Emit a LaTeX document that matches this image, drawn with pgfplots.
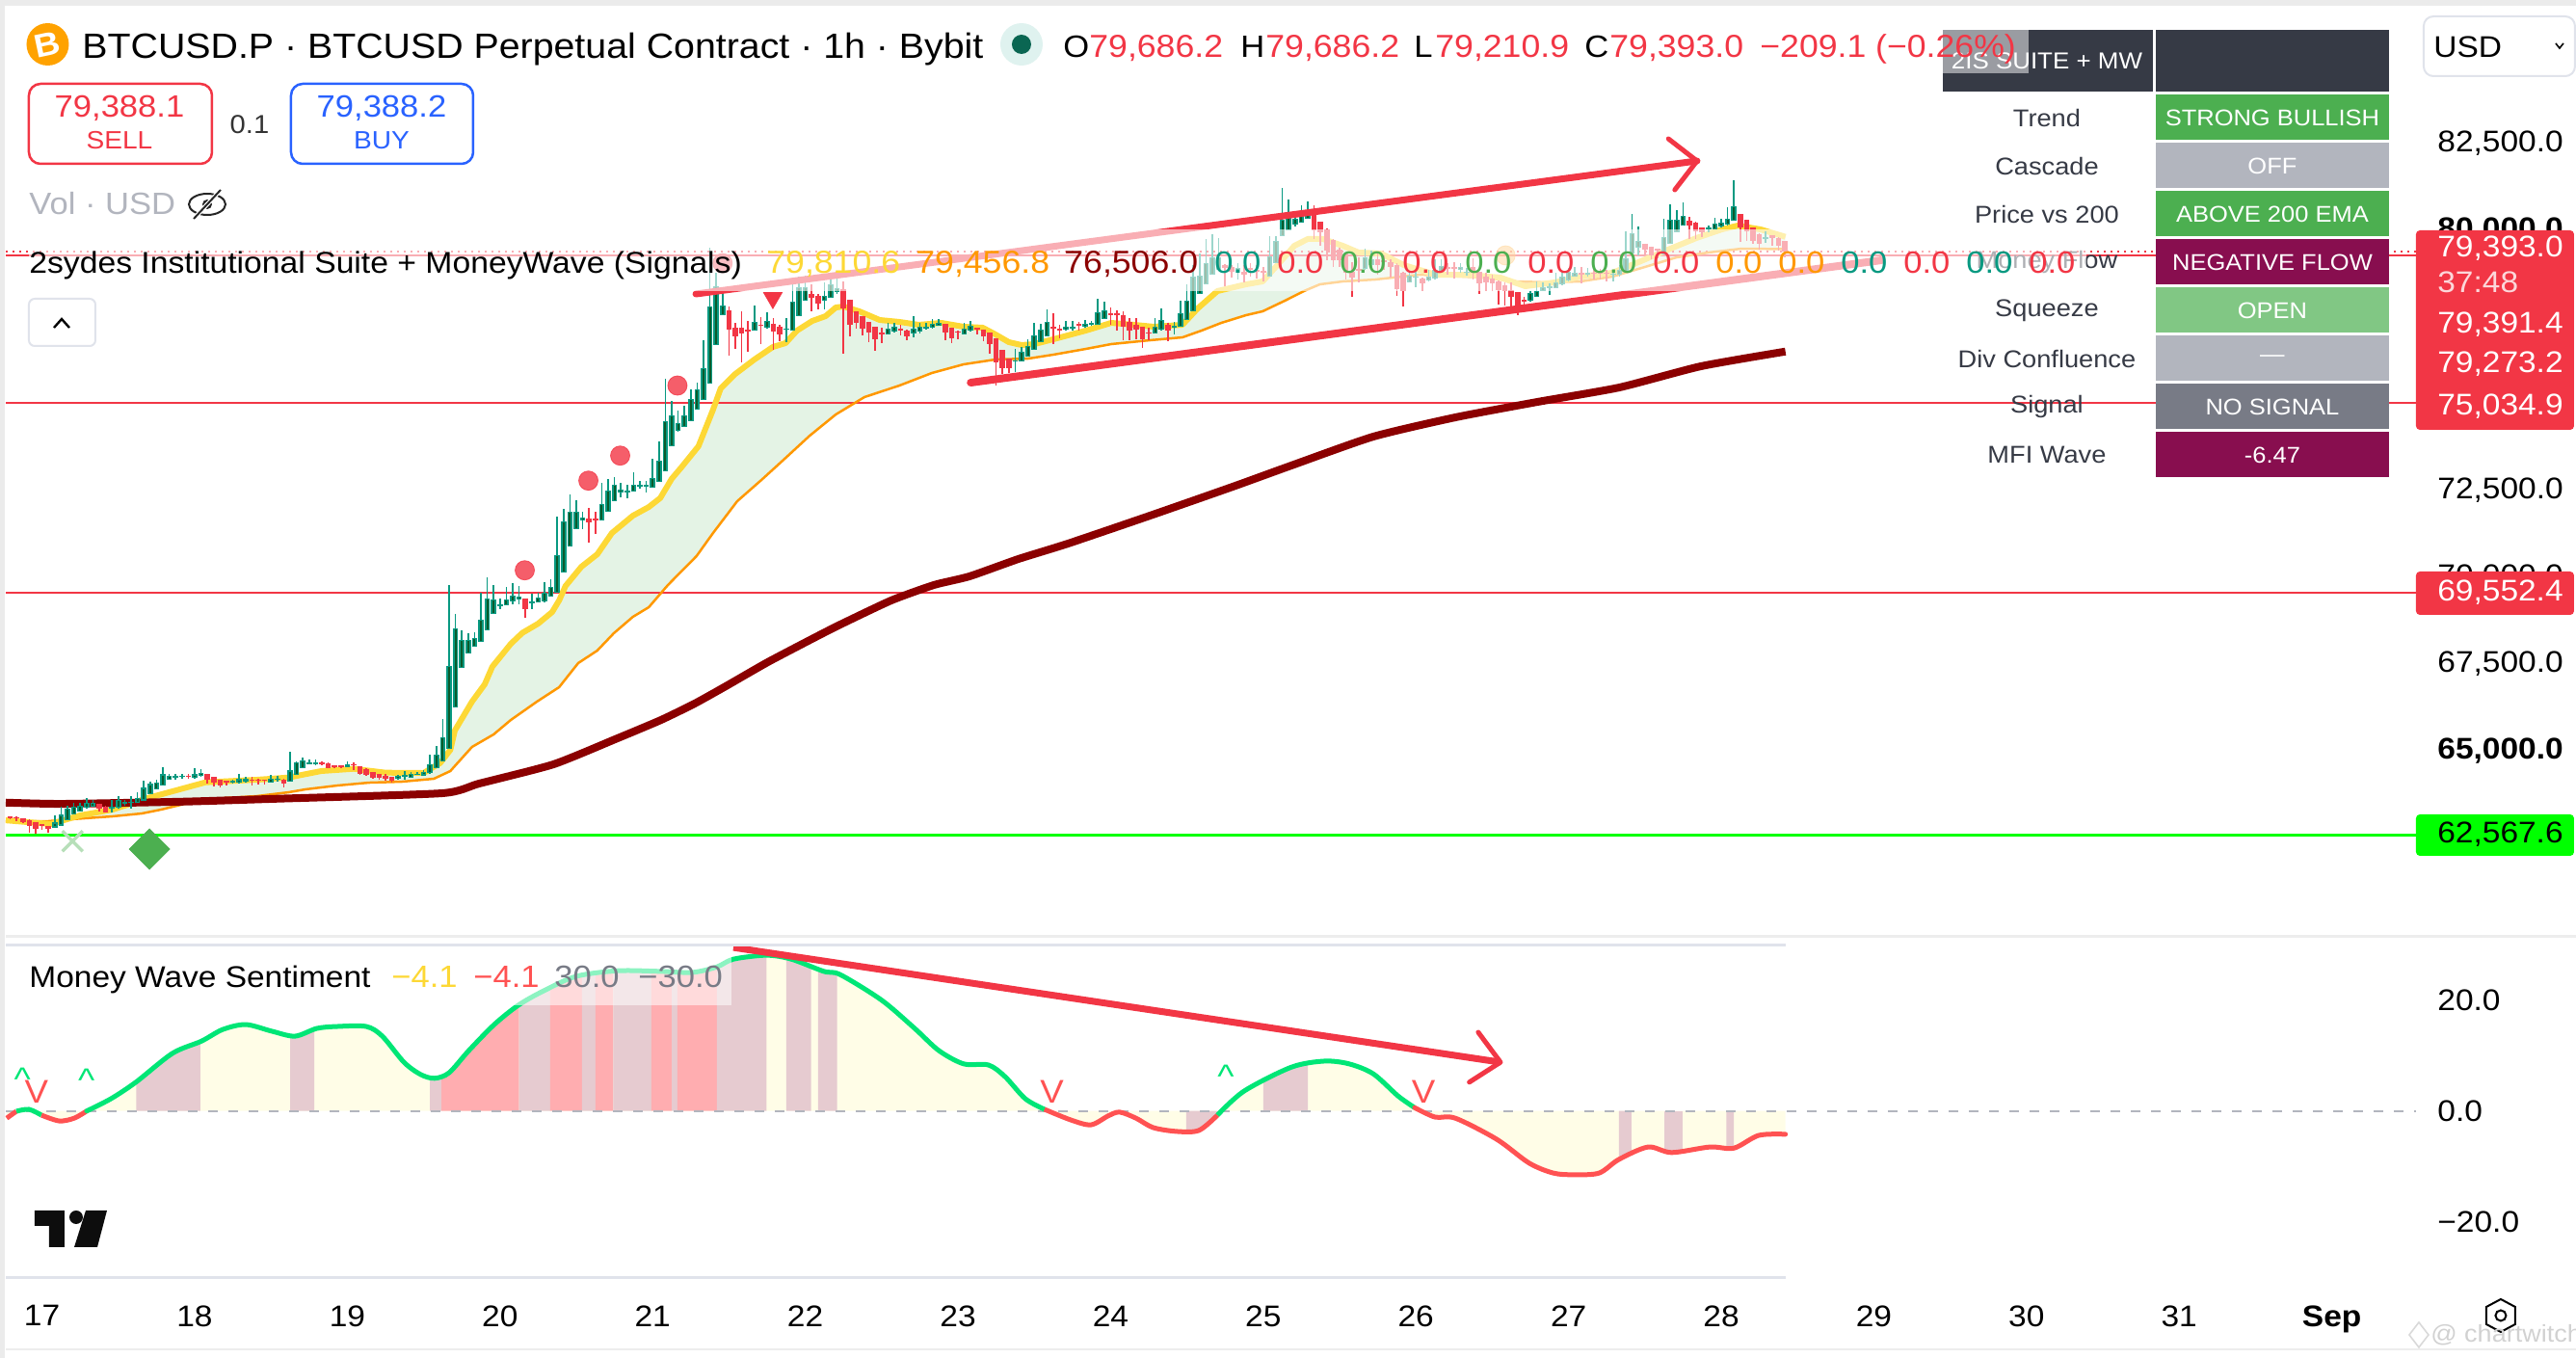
\documentclass[border=0pt]{standalone}
\usepackage{fontspec}
\setmainfont[FakeStretch=1.08]{Liberation Sans}
\usepackage{pgfplots}
\usepackage{pgfplotstable}
\pgfplotsset{compat=1.18}
\usepgfplotslibrary{fillbetween}
\definecolor{tvred}{HTML}{F23645}
\definecolor{tvteal}{HTML}{089981}
\definecolor{tvdark}{HTML}{0B5A2B}
\definecolor{tvblue}{HTML}{2962FF}
\definecolor{tvgreen}{HTML}{4CAF50}
\definecolor{tvlgreen}{HTML}{81C784}
\definecolor{tvorange}{HTML}{FF9800}
\definecolor{tvyellow}{HTML}{FDD835}
\definecolor{tvmaroon}{HTML}{8B0000}
\definecolor{tvpurple}{HTML}{880E4F}
\definecolor{tvhead}{HTML}{363A45}
\definecolor{tvgrey}{HTML}{787B86}
\definecolor{tvlgrey}{HTML}{B2B5BE}
\definecolor{tvline}{HTML}{E0E3EB}
\definecolor{wavegreen}{HTML}{00E676}
\definecolor{wavered}{HTML}{FF5252}
\definecolor{pk}{HTML}{E6CBD0}
\definecolor{rd}{HTML}{FFADB0}
\definecolor{ye}{HTML}{FFFDE7}
\definecolor{statusdot}{HTML}{0A6652}
\newcommand\fs[1]{\fontsize{#1bp}{#1bp}\selectfont}

% candles: h open high low close
\pgfplotstableread{
h o hi lo c
2 62790 63140 62790 62940
3 62850 63390 62850 63160
4 63000 63420 63000 63340
5 63160 63500 63160 63390
6 63260 63500 63260 63420
7 63360 63640 63330 63510
8 63390 63590 63390 63510
11 63330 63590 63220 63390
12 63370 63700 63330 63590
13 63480 63590 63420 63530
14 63500 63700 63350 63530
15 63500 63810 63500 63640
16 63570 64140 63570 63940
17 63760 64120 63760 64050
18 63880 64180 63880 64100
19 64000 64530 64000 64330
20 64160 64340 64160 64280
21 64230 64340 64180 64290
22 64250 64340 64200 64290
24 64220 64490 64210 64330
25 64280 64480 64250 64360
30 64090 64180 64070 64140
31 64080 64350 64070 64190
32 64120 64250 64080 64190
36 64090 64310 64090 64210
37 64160 64270 64120 64210
39 64120 64980 64120 64440
40 64300 64700 64300 64680
41 64490 64810 64490 64720
42 64610 64740 64610 64670
43 64620 64740 64580 64680
48 64540 64700 64540 64610
56 64210 64310 64170 64290
57 64250 64410 64180 64300
58 64230 64380 64220 64340
59 64310 64380 64300 64340
60 64290 64460 64280 64400
61 64360 64890 64340 64610
62 64500 65140 64500 64890
63 64700 65920 64700 65390
64 65060 69780 65060 67450
65 66250 68950 66250 68530
66 67390 68470 67390 68200
67 67810 68390 67810 68200
68 68000 68420 68000 68250
69 68140 69560 68140 68780
70 68470 70000 68470 69390
71 68950 69780 68950 69360
72 69170 69390 69090 69220
73 69200 69720 69200 69360
74 69310 69830 69220 69470
75 69360 69750 69220 69450
77 69250 69530 69090 69310
78 69280 69560 69280 69420
79 69310 69860 69280 69560
80 69450 69950 69450 69720
81 69560 71750 69560 70640
82 70140 71970 70140 71610
83 70890 72390 70890 71890
84 71390 72220 71390 71890
85 71640 71890 71390 71720
88 71640 72720 71640 72110
89 71890 72830 71890 72500
90 72190 72890 72190 72670
91 72450 72720 72310 72530
92 72450 72670 72280 72500
93 72470 73030 72470 72670
94 72610 72780 72560 72670
95 72610 72780 72450 72670
96 72580 73420 72580 72860
97 72750 73920 72750 73360
98 73060 75720 73060 74500
99 73780 75080 73780 74670
100 74220 74800 74190 74440
101 74330 74940 74330 74670
102 74500 75420 74500 75140
103 74830 75610 74830 75420
104 75110 76830 75110 76030
105 75580 79500 75580 77800
106 76690 78780 76690 78390
107 77550 78190 77550 77830
112 77110 77830 77110 77360
114 77190 77640 77170 77390
117 77140 77470 76780 77170
118 77110 78610 77110 77940
119 77530 78660 77530 78360
120 77970 78690 77970 78360
123 77970 78500 77720 78110
124 78050 78780 78050 78440
125 78220 78780 78160 78330
133 77000 77330 77000 77170
134 77080 77330 77050 77220
137 77030 77530 76910 77170
138 77080 77330 77030 77220
139 77170 77330 77140 77220
140 77190 77440 77170 77300
141 77250 77440 77250 77330
145 77000 77330 77000 77170
146 77110 77390 77080 77250
153 76220 76580 75920 76250
154 76220 76640 76220 76500
155 76360 76860 76360 76660
156 76550 77330 76550 76970
157 76780 77300 76780 77140
158 76940 77720 76940 77360
161 77140 77390 77110 77220
162 77170 77390 77110 77220
164 77220 77420 77190 77300
165 77280 77390 77250 77330
166 77280 78030 77280 77640
167 77440 77940 77440 77690
175 77030 77470 77030 77220
176 77140 77750 77110 77410
178 77190 77360 77000 77250
179 77220 77970 77220 77610
180 77410 78440 77410 77970
181 77660 79000 77660 78660
182 78160 79330 78160 78690
183 78440 79750 78440 79050
184 78720 79890 78720 79220
185 78860 79770 78860 79220
188 78780 79050 78580 78910
193 78660 79830 78660 79250
194 79050 79830 79050 79690
195 79830 81220 79830 80300
196 80000 80890 80000 80500
197 80160 80550 80110 80330
198 80220 80720 80220 80440
199 80330 80830 80330 80580
208 78890 79470 78860 79220
209 79000 79410 78940 79160
215 78500 78800 78500 78690
216 78640 78800 78360 78660
218 78550 78860 78530 78660
219 78610 79160 78580 78860
220 78800 79160 78780 78970
223 78860 79050 78780 78940
224 78780 78910 78690 78800
234 77970 78250 77940 78190
235 78080 78530 78080 78250
236 78250 78500 78250 78360
237 78330 78470 78140 78390
238 78330 78780 78330 78500
239 78440 78800 78410 78660
240 78550 78910 78530 78800
241 78660 78940 78660 78780
243 78720 78910 78660 78780
247 78720 78860 78530 78750
248 78720 79000 78660 78860
249 78800 79970 78800 79190
250 79330 80470 79330 79910
251 79500 80110 79270 79690
255 79300 80330 79300 79800
256 79610 80750 79610 80300
257 79940 80580 79940 80300
258 80140 80800 80140 80410
262 80020 80140 79940 80080
263 80020 80360 80020 80190
264 80110 80330 80080 80220
265 80160 80660 80140 80330
266 80280 81440 80280 80690
271 79750 79970 79640 79800
}\upcandles
\pgfplotstableread{
h o hi lo c
-5 63115 63120 63030 63060
-4 63090 63120 62980 63050
-3 63050 63070 62920 62940
-2 63000 63020 62640 62850
-1 62940 62960 62620 62760
0 62890 62900 62730 62850
1 62830 62840 62640 62760
9 63480 63480 63260 63350
10 63400 63420 63220 63220
23 64290 64340 64190 64250
26 64330 64340 64070 64170
27 64240 64250 63980 64080
28 64160 64170 63940 64000
29 64140 64140 64010 64100
33 64170 64260 64000 64130
34 64170 64200 64030 64130
35 64170 64170 64040 64130
38 64170 64190 63960 64060
44 64660 64700 64580 64620
45 64630 64660 64490 64490
46 64580 64580 64510 64530
47 64580 64580 64490 64530
49 64620 64670 64440 64580
50 64550 64560 64320 64340
51 64470 64490 64280 64300
52 64380 64400 64210 64230
53 64330 64340 64170 64220
54 64270 64330 64150 64200
55 64240 64260 64090 64150
76 69390 69390 68840 69090
86 71700 72000 71000 71580
87 71700 71890 71250 71640
108 77690 77800 76390 77140
109 77190 77330 76580 76940
110 77190 77660 76190 77030
111 77140 77390 76500 77080
113 77280 77500 76720 77250
115 77300 77470 76550 77080
116 77220 77280 76800 77000
121 78160 78440 77660 78050
122 78110 78160 77720 77890
126 78300 78530 76440 77750
127 78000 78000 76940 77280
128 77660 77660 77170 77330
129 77530 77530 76970 77170
130 77360 77360 76780 77050
131 77220 77220 76530 76860
132 77050 77190 76750 77000
135 77170 77280 76970 77110
136 77110 77140 76830 76940
142 77300 77300 76830 77050
143 77190 77190 76750 76890
144 77080 77110 76860 77050
147 77190 77190 77000 77140
148 77140 77140 76800 76940
149 77050 77050 76440 76720
150 76890 76890 75530 76190
151 76550 76550 75860 76030
152 76300 76300 75890 76030
159 77220 77610 76720 77170
160 77170 77280 76890 77110
163 77300 77360 77110 77250
168 77610 77780 77280 77550
169 77610 77690 77110 77550
170 77550 77660 76830 77220
171 77360 77470 76830 77110
172 77280 77470 76860 77140
173 77220 77220 76610 76860
174 77050 77190 76830 77030
177 77280 77330 76800 77110
186 79000 79030 78390 78910
187 78940 79000 78640 78800
189 78800 79000 78500 78720
190 78910 79050 78660 78860
191 78860 79000 78610 78800
192 78830 78940 78530 78780
200 80580 80720 79750 80000
201 80250 80250 79550 79940
202 80020 80050 79140 79410
203 79720 79750 78940 79140
204 79440 79500 78940 79140
205 79330 79360 78580 78780
206 78800 79080 78080 78640
207 78890 79220 78500 78830
210 79160 79330 78720 79000
211 79140 79270 78860 79080
212 79080 79160 78640 78940
213 79000 79050 78110 78300
214 78780 78800 77800 78250
217 78610 78640 78250 78470
221 78940 79050 78720 78890
222 78940 79080 78610 78890
225 78940 79190 78580 78780
226 78800 78800 78160 78470
227 78660 78780 78250 78500
228 78610 78720 78250 78470
229 78530 78550 77860 78280
230 78410 78500 77830 78250
231 78280 78500 77800 78080
232 78220 78220 77550 77800
233 78000 78080 77830 77940
242 78780 78940 78470 78720
244 78780 78890 78580 78750
245 78780 78890 78580 78750
246 78780 78860 78530 78750
252 79610 79610 79270 79440
253 79530 79530 79160 79270
254 79470 79470 79190 79410
259 80280 80390 79750 80140
260 80220 80250 79750 79970
261 80080 80080 79800 79940
267 80470 80470 79660 80080
268 80300 80300 79690 79970
269 80080 80080 79610 79690
270 79890 79910 79440 79610
272 79860 79860 79550 79780
273 79780 79800 79410 79550
274 79686.2 79686.2 79210.9 79393.0
}\downcandles
\pgfplotstableread{
h p
-5.7 63000
1.4 62893
6 63143
11.1 63309
16.6 63642
21.1 63865
25.7 64095
33.8 64170
38.8 64235
43.9 64420
49 64484
54 64373
60 64364
62.6 64650
64.2 65030
64.9 65586
67.6 66419
69.6 66919
70.8 67427
73.7 68084
75.5 68398
78 68667
80.2 69000
81.3 69334
82.3 69750
84.8 70306
87.3 70666
89.6 71277
92.9 71777
95.4 72027
97.2 72285
99 72840
100.5 73165
103.2 73776
105.5 74831
106.7 75443
109 75860
112 76276
114.9 76637
116.9 76748
118.7 77109
121.1 77387
123.2 77525
124.8 77775
126 77803
128.5 77664
131.7 77414
134.8 77359
137.8 77276
141.4 77331
144.9 77220
147.9 77193
149.9 76998
152 76776
154 76693
156 76720
159 76859
164.1 77109
168.1 77331
171.7 77276
174.8 77220
179.3 77276
181.7 77748
184.8 78248
189.3 78441
191.9 78525
194.5 79052
196.9 79553
199 79747
201.4 79747
204.5 79553
207 79358
210.5 79330
214.1 78997
219.1 78719
224.2 78719
229.3 78636
233.2 78386
237.8 78497
241.9 78664
246.9 78775
251 79080
256 79469
260.1 79775
264.1 80024
266.6 80135
270.2 80024
274.1 79810.6
}\emafast
\pgfplotstableread{
h p
-5.7 62976
1 62976
4.5 63031
11.1 63115
15.7 63198
18.7 63309
23.7 63531
28.7 63642
33.8 63698
38.8 63809
41.4 63892
46.4 64003
51.4 64086
56.6 64114
61.6 64198
64.2 64420
64.6 64503
67.6 65114
71 65475
73.7 65891
77.8 66419
81.3 66836
84.3 67530
87.3 67891
89.9 68391
92.9 68863
95.4 69140
98.4 69779
102.9 70612
105.5 71277
109.3 72194
113.1 72805
116.1 73305
120.7 74082
124.8 74693
129.3 75193
134.8 75526
139.9 75887
144.9 76137
149.9 76276
155.1 76304
159 76415
164.1 76581
168.1 76720
174.2 76831
179.3 76914
182.3 77109
185.4 77331
189.3 77553
191.9 77664
195.4 77970
198.4 78248
200.9 78441
204.5 78525
209.6 78580
216.6 78719
226.7 78636
231.7 78525
236.9 78497
241.9 78525
246.9 78664
252 78941
257 79219
262 79358
267.2 79469
274.1 79456.8
}\emamid
\pgfplotstableread{
h p
-5.7 63511
3.1 63475
22.3 63539
36.9 63622
62.9 63781
68.7 64058
80.4 64613
90.1 65335
97.3 65890
102.6 66363
107.5 66863
114.1 67557
121.9 68306
125.8 68667
133.5 69334
140.2 69778
145.8 70028
153.5 70528
161.3 70973
174.2 71778
187.2 72611
196.4 73221
209.3 74054
222.2 74609
235.1 75054
248 75471
260.8 76081
274.1 76506
}\emaslow
\pgfplotstableread{
h v
-5.55 -1.3
-4.03 -0.05
-2.06 0.3
-0.09 -0.75
2.71 -1.8
5.06 -1.3
7.03 0
10.82 2.2
14.76 5.2
20.5 10.4
25.06 12.6
28.4 14.7
32.03 15.6
36.12 14.4
39.76 13.5
43.2 14.9
46.4 15.25
50.97 15.25
53.5 13.5
56.9 8.8
59.5 6.6
61.7 5.9
64 6.9
67.1 10.9
71.1 15.6
74.9 19.1
78.9 21.7
84 24.3
90.5 25.3
97 25.2
102.2 25
106.1 26
108.7 27.4
113.9 28.1
117.8 27.4
122.9 25.2
125.5 24.6
132 20
137.2 14.9
141 10.9
144.9 8.5
148.8 8.3
151.4 6.2
154.6 2.2
157.6 0.3
161.7 -1.6
164.9 -2.5
167.6 -0.9
169.4 -0.2
172 -1.3
174.7 -3
178.5 -3.7
181.9 -3.5
184.8 -0.75
189 3.6
196.4 7.9
201.6 9
205.5 8.5
209.3 6.7
213.2 2.7
215.8 0.6
219 -1.1
222.2 -1.3
228.7 -5.1
233.8 -9.4
237.6 -11.2
240.8 -11.5
244.8 -11.2
247.9 -8.75
252.5 -6.5
256.2 -7.5
262.2 -6.5
266 -6.7
269.9 -4.4
274.1 -4.2
}\wave

\begin{document}
\begin{tikzpicture}
\path (0,0) rectangle (1336.5bp,-704.5bp);
\fill[black!8] (0,0) rectangle (1336.5bp,-3bp);
\fill[black!8] (0,0) rectangle (2.5bp,-704.5bp);

\begin{axis}[
  at={(3bp,-482.5bp)}, anchor=south west, scale only axis,
  width=1250.5bp, height=479.5bp,
  xmin=-5.697, xmax=373.24, ymin=59838.4, ymax=86466,
  clip=false, scaled y ticks=false, scaled x ticks=false,
  axis line style={draw=none}, tick style={draw=none}, major tick length=0pt,
  xtick=\empty,
  ytick={65000,67500,70000,72500,75000,77500,80000,82500},
  yticklabels={\textbf{65,000.0},{67,500.0},{70,000.0},{72,500.0},{75,000.0},{77,500.0},\textbf{80,000.0},{82,500.0}},
  yticklabel pos=right,
  yticklabel style={anchor=west, inner sep=0pt, xshift=11bp, font=\fs{15.5}, text=black},
]
% horizontal levels
\addplot[tvred, line width=1bp, forget plot] coordinates {(-5.697,69552.4)(373.24,69552.4)};
\addplot[tvred, line width=1bp, forget plot] coordinates {(-5.697,75034.9)(373.24,75034.9)};
\addplot[tvred, line width=1bp, forget plot] coordinates {(-5.697,79273.2)(373.24,79273.2)};
\addplot[tvred, line width=1bp, dash pattern=on 1bp off 2.5bp, forget plot] coordinates {(-5.697,79393)(373.24,79393)};
\addplot[green, line width=1.5bp, forget plot] coordinates {(-5.697,62567.6)(373.24,62567.6)};
% EMA ribbon
\addplot[draw=none, name path=fast, forget plot] table[x=h,y=p] {\emafast};
\addplot[draw=none, name path=mid, forget plot] table[x=h,y=p] {\emamid};
\addplot[tvgreen, fill opacity=0.15, draw=none, forget plot] fill between[of=fast and mid];
\addplot[tvorange, line width=1.25bp, line join=round, forget plot] table[x=h,y=p] {\emamid};
\addplot[tvyellow, line width=3bp, line join=round, forget plot] table[x=h,y=p] {\emafast};
\addplot[tvmaroon, line width=4bp, line join=round, smooth, tension=0.35, forget plot] table[x=h,y=p] {\emaslow};
% candles
\addplot[draw=none, mark=none, forget plot, error bars/.cd, y dir=both, y explicit, error mark=none,
  error bar style={tvteal, line width=0.8bp}]
  table[x=h, y=c, y error plus expr=\thisrow{hi}-\thisrow{c}, y error minus expr=\thisrow{c}-\thisrow{lo}] {\upcandles};
\addplot[draw=none, mark=none, forget plot, error bars/.cd, y dir=minus, y explicit, error mark=none,
  error bar style={tvteal, line width=2.8bp}]
  table[x=h, y=c, y error minus expr=\thisrow{c}-\thisrow{o}] {\upcandles};
\addplot[draw=none, mark=none, forget plot, error bars/.cd, y dir=minus, y explicit, error mark=none,
  error bar style={tvdark, line width=1bp}]
  table[x=h, y expr=\thisrow{c}-35, y error minus expr={max(\thisrow{c}-\thisrow{o}-70,0)}] {\upcandles};
\addplot[draw=none, mark=none, forget plot, error bars/.cd, y dir=both, y explicit, error mark=none,
  error bar style={tvred, line width=0.8bp}]
  table[x=h, y=o, y error plus expr=\thisrow{hi}-\thisrow{o}, y error minus expr=\thisrow{o}-\thisrow{lo}] {\downcandles};
\addplot[draw=none, mark=none, forget plot, error bars/.cd, y dir=minus, y explicit, error mark=none,
  error bar style={tvred, line width=2.8bp}]
  table[x=h, y=o, y error minus expr=\thisrow{o}-\thisrow{c}] {\downcandles};
% signal marks
\addplot[only marks, mark=*, mark size=5bp, mark options={draw=tvred, fill=tvred, opacity=0.8}, forget plot]
  coordinates {(75.9,70203)(85.9,72786)(90.9,73507)(99.9,75526)(107,79052)};
\addplot[only marks, mark=*, mark size=5bp, mark options={draw=tvorange, fill=tvorange, opacity=0.5}, forget plot]
  coordinates {(230.1,79275)};
\addplot[only marks, mark=triangle*, mark size=5.5bp, mark options={draw=tvred, fill=tvred, rotate=180}, forget plot]
  coordinates {(114.9,78050)};
\addplot[only marks, mark=diamond*, mark size=10.5bp, mark options={draw=tvgreen, fill=tvgreen, xscale=1.33}, forget plot]
  coordinates {(16.9,62170)};
\addplot[only marks, mark=x, mark size=7.5bp, mark options={color=tvgreen!40, line width=1.7bp}, forget plot]
  coordinates {(4.8,62400)};
% drawn trend lines
\addplot[tvred, line width=3.5bp, line cap=round, forget plot] coordinates {(102.8,78164)(260.2,81996)};
\addplot[tvred, line width=2.5bp, line cap=round, line join=round, forget plot] coordinates {(255.7,82634)(260.2,81996)(256.7,81163)};
\addplot[tvred, line width=4bp, line cap=round, forget plot] coordinates {(146,75610)(289.2,79136)};
\end{axis}

\begin{axis}[
  at={(3bp,-663bp)}, anchor=south west, scale only axis,
  width=1250.5bp, height=172.5bp,
  xmin=-5.697, xmax=373.24, ymin=-30.14, ymax=29.86,
  clip=false, scaled y ticks=false, scaled x ticks=false,
  axis line style={draw=none}, tick style={draw=none}, major tick length=0pt,
  xtick={0,24,48,72,96,120,144,168,192,216,240,264,288,312,336,360},
  xticklabels={17,18,19,20,21,22,23,24,25,26,27,28,29,30,31,\textbf{Sep}},
  xticklabel style={anchor=north, inner sep=0pt, yshift=-14bp, font=\fs{15.5}, text=black},
  ytick={-20,0,20},
  yticklabels={−20.0,0.0,20.0},
  yticklabel pos=right,
  yticklabel style={anchor=west, inner sep=0pt, xshift=11bp, font=\fs{15.5}, text=black},
]
\addplot[fill=ye, draw=none, smooth, forget plot] table[x=h,y=v] {\wave} \closedcycle;
\addplot[fill=pk, draw=none, forget plot] coordinates {(14.8,0)(14.8,5.2)(20.5,10.4)(24.9,12.5)(24.9,0)} -- cycle;
\addplot[fill=pk, draw=none, forget plot] coordinates {(39,0)(39,13.7)(39.76,13.5)(42.8,14.5)(42.8,0)} -- cycle;
\addplot[fill=pk, draw=none, forget plot] coordinates {(61,0)(61,6)(61.7,5.9)(62.8,6.4)(62.8,0)} -- cycle;
\addplot[fill=rd, draw=none, forget plot] coordinates {(62.8,0)(62.8,6.4)(64,6.9)(67.1,10.9)(71.1,15.6)(75,19.1)(75,0)} -- cycle;
\addplot[fill=pk, draw=none, forget plot] coordinates {(75,0)(75,19.1)(78.9,21.7)(79.9,22.2)(79.9,0)} -- cycle;
\addplot[fill=rd, draw=none, forget plot] coordinates {(79.9,0)(79.9,22.2)(84,24.3)(84.9,24.5)(84.9,0)} -- cycle;
\addplot[fill=pk, draw=none, forget plot] coordinates {(84.9,0)(84.9,24.5)(87,24.9)(87,0)} -- cycle;
\addplot[fill=rd, draw=none, forget plot] coordinates {(87,0)(87,24.9)(89.8,25.2)(89.8,0)} -- cycle;
\addplot[fill=pk, draw=none, forget plot] coordinates {(89.8,0)(89.8,25.2)(90.5,25.3)(95.8,25.2)(95.8,0)} -- cycle;
\addplot[fill=rd, draw=none, forget plot] coordinates {(95.8,0)(95.8,25.2)(99,25.1)(99,0)} -- cycle;
\addplot[fill=pk, draw=none, forget plot] coordinates {(99,0)(99,25.1)(99.9,25.05)(99.9,0)} -- cycle;
\addplot[fill=rd, draw=none, forget plot] coordinates {(99.9,0)(99.9,25.05)(102.2,25)(106.1,26)(106.1,0)} -- cycle;
\addplot[fill=pk, draw=none, forget plot] coordinates {(106.1,0)(106.1,26)(108.7,27.4)(113.9,28.1)(113.9,0)} -- cycle;
\addplot[fill=pk, draw=none, forget plot] coordinates {(117,0)(117,27.6)(117.8,27.4)(120.9,26)(120.9,0)} -- cycle;
\addplot[fill=pk, draw=none, forget plot] coordinates {(122,0)(122,25.5)(122.9,25.2)(125,24.8)(125,0)} -- cycle;
\addplot[fill=pk, draw=none, forget plot] coordinates {(179.9,0)(179.9,-3.7)(181.9,-3.5)(184.8,-0.75)(184.8,0)} -- cycle;
\addplot[fill=pk, draw=none, forget plot] coordinates {(192,0)(192,5.3)(196.4,7.9)(199,8.5)(199,0)} -- cycle;
\addplot[fill=pk, draw=none, forget plot] coordinates {(247.9,0)(247.9,-8.75)(249.9,-7.8)(249.9,0)} -- cycle;
\addplot[fill=pk, draw=none, forget plot] coordinates {(255,0)(255,-7.2)(257.9,-7.2)(257.9,0)} -- cycle;
\addplot[fill=pk, draw=none, forget plot] coordinates {(264.8,0)(264.8,-6.6)(266,-6.7)(266,0)} -- cycle;
\addplot[tvlgrey, line width=1bp, dash pattern=on 5bp off 5.5bp, forget plot] coordinates {(-5.697,0)(373.24,0)};
% wave line by colour
\addplot[wavered, line width=2.5bp, smooth, forget plot] coordinates {(-5.55,-1.3)(-4.03,-0.05)};
\addplot[wavegreen, line width=2.5bp, smooth, forget plot] coordinates {(-4.03,-0.05)(-2.06,0.3)(-0.09,-0.75)};
\addplot[wavered, line width=2.5bp, smooth, forget plot] coordinates {(-0.09,-0.75)(2.71,-1.8)(5.06,-1.3)(7.03,0)};
\addplot[wavegreen, line width=2.5bp, smooth, line cap=round, forget plot] coordinates {
(7.03,0)(10.82,2.2)(14.76,5.2)(20.5,10.4)(25.06,12.6)(28.4,14.7)(32.03,15.6)(36.12,14.4)(39.76,13.5)(43.2,14.9)(46.4,15.25)(50.97,15.25)(53.5,13.5)(56.9,8.8)(59.5,6.6)(61.7,5.9)(64,6.9)(67.1,10.9)(71.1,15.6)(74.9,19.1)(78.9,21.7)(84,24.3)(90.5,25.3)(97,25.2)(102.2,25)(106.1,26)(108.7,27.4)(113.9,28.1)(117.8,27.4)(122.9,25.2)(125.5,24.6)(132,20)(137.2,14.9)(141,10.9)(144.9,8.5)(148.8,8.3)(151.4,6.2)(154.6,2.2)(157.6,0.3)};
\addplot[wavered, line width=2.5bp, smooth, forget plot] coordinates {
(157.6,0.3)(161.7,-1.6)(164.9,-2.5)(167.6,-0.9)(169.4,-0.2)(172,-1.3)(174.7,-3)(178.5,-3.7)(181.9,-3.5)(184.8,-0.75)};
\addplot[wavegreen, line width=2.5bp, smooth, forget plot] coordinates {
(184.8,-0.75)(189,3.6)(196.4,7.9)(201.6,9)(205.5,8.5)(209.3,6.7)(213.2,2.7)(215.8,0.6)};
\addplot[wavered, line width=2.5bp, smooth, line cap=round, forget plot] coordinates {
(215.8,0.6)(219,-1.1)(222.2,-1.3)(228.7,-5.1)(233.8,-9.4)(237.6,-11.2)(240.8,-11.5)(244.8,-11.2)(247.9,-8.75)(252.5,-6.5)(256.2,-7.5)(262.2,-6.5)(266,-6.7)(269.9,-4.4)(274.1,-4.2)};
% signal letters
\addplot[draw=none, forget plot, nodes near coords={V},
  every node near coord/.style={anchor=center, inner sep=0pt, font=\fs{17}, text=wavered}]
  coordinates {(-0.85,3.4)(158.8,3.4)(217.2,3.4)};
\addplot[draw=none, forget plot, nodes near coords={\textasciicircum},
  every node near coord/.style={anchor=center, inner sep=0pt, font=\fs{17}, text=wavegreen}]
  coordinates {(-3.1,5.7)(7,5.5)(186.1,6.2)};
% drawn divergence arrow
\addplot[tvred, line width=3.5bp, forget plot] coordinates {(108.7,29.5)(229.3,8.8)};
\addplot[tvred, line width=2.5bp, line join=round, line cap=round, forget plot] coordinates {(225.8,14.2)(229.3,8.8)(224.4,5.2)};
\end{axis}

\begin{scope}[x=0.5bp,y=-0.5bp]
% separators
\draw[tvline, line width=1.5bp] (6,981) -- (1853,981);
\draw[tvline, line width=1.5bp] (6,1326) -- (1853,1326);
\draw[black!7, line width=1.5bp] (6,972) -- (2673,972);
\draw[black!7, line width=1bp] (6,1400) -- (2673,1400);
% header
\fill[tvorange!90!yellow] (49.5,46) circle (22);
\node[text=white, font=\fs{17}\bfseries, rotate=12] at (49.5,46) {B};
\node[anchor=base west, inner sep=0, font=\fs{18.2}] at (85,60) {BTCUSD.P · BTCUSD Perpetual Contract · 1h · Bybit};
\fill[tvteal!13] (1060,46) circle (22);
\fill[statusdot] (1060,46) circle (10);
\node[anchor=base west, inner sep=0, font=\fs{16}] at (1103,59) {O};
\node[anchor=base west, inner sep=0, font=\fs{16.5}, text=tvred] at (1130,59) {79,686.2};
\node[anchor=base west, inner sep=0, font=\fs{16}] at (1287,59) {H};
\node[anchor=base west, inner sep=0, font=\fs{16.5}, text=tvred] at (1313,59) {79,686.2};
\node[anchor=base west, inner sep=0, font=\fs{16}] at (1467,59) {L};
\node[anchor=base west, inner sep=0, font=\fs{16.5}, text=tvred] at (1489,59) {79,210.9};
\node[anchor=base west, inner sep=0, font=\fs{16}] at (1644,59) {C};
\node[anchor=base west, inner sep=0, font=\fs{16.5}, text=tvred] at (1670,59) {79,393.0};
% table
\fill[tvhead] (2016,31) rectangle (2234.5,95);
\fill[tvhead] (2237,31) rectangle (2479.5,95);
\fill[white, opacity=0.5] (2016,31) rectangle (2105,76);
\node[text=white, font=\fs{12}] at (2124,63.5) {2IS SUITE + MW};
\node[anchor=base west, inner sep=0, font=\fs{16.5}, text=tvred] at (1826,59) {−209.1 (−0.26\%)};
\foreach \yy/\lab/\val/\colr in {
  98/Trend/STRONG BULLISH/tvgreen,
  148/Cascade/OFF/tvlgrey,
  198/Price vs 200/ABOVE 200 EMA/tvgreen,
  248/Money Flow/NEGATIVE FLOW/tvpurple,
  298/Squeeze/OPEN/tvlgreen,
  348/Div Confluence/—/tvlgrey,
  398/Signal/NO SIGNAL/tvgrey,
  448/MFI Wave/-6.47/tvpurple}{
  \fill[\colr] (2237,\yy) rectangle (2479.5,\yy+47);
  \node[text=white, font=\fs{11.8}] at (2358,\yy+24) {\val};
  \node[text=tvhead, font=\fs{12.6}] at (2124,\yy+24) {\lab};
}
% legend band over the chart
\fill[white, opacity=0.6] (30,238) rectangle (2165,302);
\node[anchor=base west, inner sep=0, font=\fs{15.6}] at (30,284) {2sydes Institutional Suite + MoneyWave (Signals)};
\node[anchor=base west, inner sep=0, font=\fs{16.5}, text=tvyellow] at (795,284) {79,810.6};
\node[anchor=base west, inner sep=0, font=\fs{16.5}, text=tvorange] at (950,284) {79,456.8};
\node[anchor=base west, inner sep=0, font=\fs{16.5}, text=tvmaroon] at (1104,284) {76,506.0};
\foreach \k/\colr in {0/tvteal,1/tvred,2/tvgreen,3/tvred,4/tvgreen,5/tvred,6/tvgreen,7/tvred,8/tvorange,9/tvorange,10/tvteal,11/tvred,12/tvteal,13/tvred}{
  \node[anchor=base west, inner sep=0, font=\fs{16}, text=\colr] at (1260+65*\k,284) {0.0};
}
% sell / buy
\draw[tvred, line width=1.25bp, rounded corners=6bp, fill=white] (30,87) rectangle (220,170);
\node[text=tvred, font=\fs{16}] at (124,112) {79,388.1};
\node[text=tvred, font=\fs{13}] at (124,146) {SELL};
\node[font=\fs{13.5}, text=black!80] at (259,129) {0.1};
\draw[tvblue, line width=1.25bp, rounded corners=6bp, fill=white] (302,87) rectangle (491,170);
\node[text=tvblue, font=\fs{16}] at (396,112) {79,388.2};
\node[text=tvblue, font=\fs{13}] at (396,146) {BUY};
\node[anchor=base west, inner sep=0, font=\fs{16}, text=tvlgrey] at (30,223) {Vol · USD};
\draw[black!85, line width=1bp] (215,212) ellipse (19 and 11);
\fill[black!85] (215,212) circle (5);
\draw[white, line width=2.2bp] (201,227) -- (229,197);
\draw[black!85, line width=1bp] (201,227) -- (229,197);
% collapse button
\draw[tvline, line width=1bp, rounded corners=3bp, fill=white] (30,310) rectangle (99,359);
\draw[black, line width=1.2bp] (56,340) -- (64,331) -- (72,340);
% lower legend
\fill[white, opacity=0.55] (6,983) rectangle (759,1043);
\node[anchor=base west, inner sep=0, font=\fs{15.5}] at (30,1025) {Money Wave Sentiment};
\node[anchor=base west, inner sep=0, font=\fs{16}, text=tvyellow] at (406,1025) {−4.1};
\node[anchor=base west, inner sep=0, font=\fs{16}, text=wavered] at (491,1025) {−4.1};
\node[anchor=base west, inner sep=0, font=\fs{16}, text=tvgrey] at (575,1025) {30.0};
\node[anchor=base west, inner sep=0, font=\fs{16}, text=tvgrey] at (662,1025) {−30.0};
% logo
\fill[black!95] (36,1256) -- (67,1256) -- (67,1294) -- (51,1294) -- (51,1272) -- (36,1272) -- cycle;
\fill[black!95] (79,1263) circle (7);
\fill[black!95] (89,1256) -- (111,1256) -- (101,1294) -- (77,1294) -- cycle;
% USD box
\draw[tvline, line width=1bp, rounded corners=5bp, fill=white] (2515,17) rectangle (2672,79);
\node[anchor=base west, inner sep=0, font=\fs{15.5}] at (2525,59) {USD};
\draw[black, line width=0.8bp] (2652,45) -- (2656,50) -- (2660,45);
% price tags
\fill[tvred, rounded corners=2bp] (2507,239) rectangle (2671,446);
\fill[tvred, rounded corners=2bp] (2507,593) rectangle (2671,638);
\fill[green, rounded corners=2bp] (2507,845) rectangle (2671,888);
\foreach \yy/\lab in {258/79{,}393.0,337/79{,}391.4,378/79{,}273.2,422/75{,}034.9}{
  \node[anchor=west, inner sep=0, text=white, font=\fs{15.5}] at (2529,\yy) {\lab};
}
\node[anchor=west, inner sep=0, text=white!80!tvred, font=\fs{15.5}] at (2529,293) {37:48};
\node[anchor=west, inner sep=0, text=white, font=\fs{15.5}] at (2529,615) {69,552.4};
\node[anchor=west, inner sep=0, text=black, font=\fs{15.5}] at (2529,866) {62,567.6};
% settings icon and watermark
\draw[black, line width=1bp] (2595,1348) -- (2610,1356) -- (2610,1374) -- (2595,1382) -- (2580,1374) -- (2580,1356) -- cycle;
\draw[black, line width=1bp] (2595,1365) circle (5.5);
\node[anchor=west, inner sep=0, text=black!18, font=\fs{12.5}] at (2522,1385) {@ chartwitch};
\draw[black!15, line width=0.8bp] (2500,1385) -- (2510,1372) -- (2520,1385) -- (2510,1398) -- cycle;
\end{scope}
\pgfresetboundingbox
\useasboundingbox (0,0) rectangle (1336.5bp,-704.5bp);
\end{tikzpicture}
\end{document}
